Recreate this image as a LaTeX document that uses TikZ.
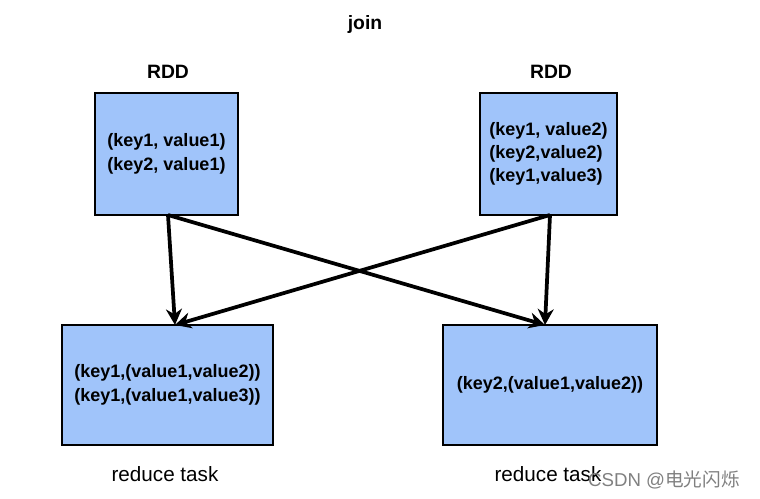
\documentclass[tikz,border=0pt]{standalone}
\usepackage{fontspec}
\setmainfont{Liberation Sans}
\newfontfamily\cjk{Noto Sans CJK SC}
\usepackage{xcolor}
\usetikzlibrary{arrows.meta}
\definecolor{boxblue}{RGB}{160,196,250}
\begin{document}
\begin{tikzpicture}[x=0.75pt,y=0.75pt,yscale=-1,xscale=1,
  rdd/.style={draw=black,line width=1.5pt,fill=boxblue,inner sep=0pt,align=left,font=\bfseries\fontsize{13.5}{17.5}\selectfont},
  lbl/.style={font=\bfseries\fontsize{14.5}{16}\selectfont},
  foot/.style={font=\fontsize{15.5}{17}\selectfont},
  flow/.style={line width=2.8pt,-{Stealth[length=12pt,width=12pt]}}]
\useasboundingbox (0,0) rectangle (760,499);

% Boxes
\node [rdd,minimum width=143*0.75pt,minimum height=122*0.75pt] (leftRDD) at (166.5,154) {(key1, value1)\\(key2, value1)};
\node [rdd,minimum width=137*0.75pt,minimum height=122*0.75pt] (rightRDD) at (548.5,154) {(key1, value2)\\(key2,value2)\\(key1,value3)};
\node [rdd,minimum width=211*0.75pt,minimum height=120*0.75pt] (leftTask) at (167.5,385) {(key1,(value1,value2))\\(key1,(value1,value3))};
\node [rdd,minimum width=214*0.75pt,minimum height=120*0.75pt] (rightTask) at (550,385) {(key2,(value1,value2))};

% Text Node
\node [lbl] (title) at (365,25) {join};
\node [lbl] (leftHead) at (168,72) {RDD};
\node [lbl] (rightHead) at (551,72) {RDD};
\node [foot] (leftFoot) at (165,474) {reduce task};
\node [foot] (rightFoot) at (548,474) {reduce task};
\node [font=\fontsize{14}{16}\selectfont,text=gray] (mark) at (664,480) {CSDN @{\cjk 电光闪烁}};

% Arrows
\coordinate (lOut) at (168,215);
\coordinate (rOut) at (550,215);
\coordinate (lIn) at (175,325);
\coordinate (rIn) at (545,325);
\draw [flow] (lOut) -- (lIn);
\draw [flow] (lOut) -- (rIn);
\draw [flow] (rOut) -- (rIn);
\draw [flow] (rOut) -- (lIn);
\end{tikzpicture}
\end{document}
